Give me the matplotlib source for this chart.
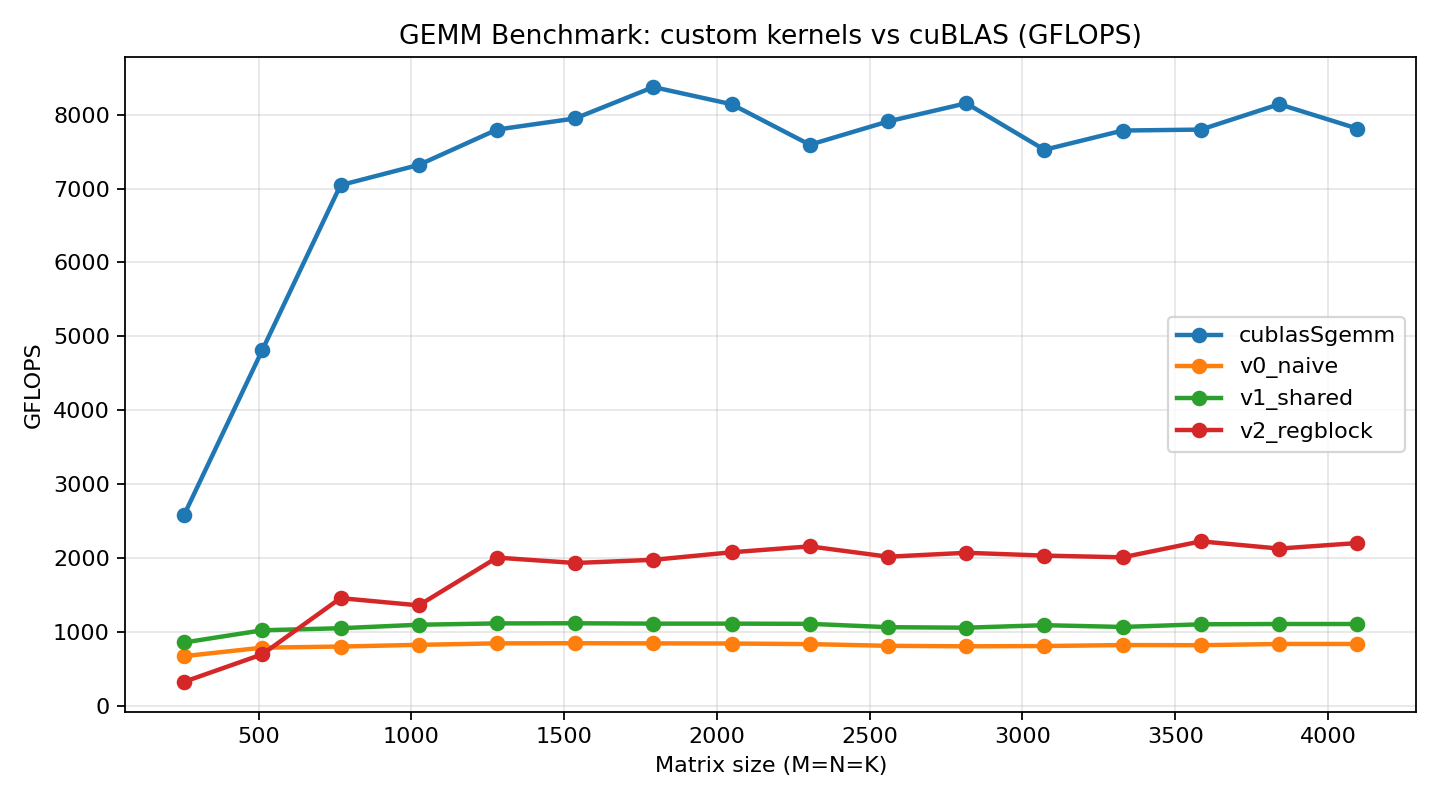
import numpy as np
import matplotlib
matplotlib.use('Agg')
import matplotlib.pyplot as plt

sizes = [256, 512, 768, 1024, 1280, 1536, 1792, 2048, 2304, 2560, 2816, 3072, 3328, 3584, 3840, 4096]

cublas = [2585, 4815, 7045, 7319, 7797, 7948, 8372, 8140, 7592, 7907, 8153, 7524, 7784, 7797, 8140, 7811]
v0_naive = [675, 790, 805, 828, 848, 850, 848, 846, 838, 815, 808, 812, 825, 823, 840, 840]
v1_shared = [860, 1025, 1053, 1100, 1118, 1120, 1115, 1115, 1112, 1067, 1060, 1094, 1070, 1106, 1110, 1110]
v2_regblock = [328, 700, 1460, 1362, 2008, 1935, 1978, 2080, 2160, 2020, 2073, 2035, 2012, 2228, 2130, 2205]

fig = plt.figure(figsize=(9, 5), dpi=160)
ax = fig.add_subplot(111)

ax.plot(sizes, cublas, marker='o', linewidth=2, markersize=6, label='cublasSgemm')
ax.plot(sizes, v0_naive, marker='o', linewidth=2, markersize=6, label='v0_naive')
ax.plot(sizes, v1_shared, marker='o', linewidth=2, markersize=6, label='v1_shared')
ax.plot(sizes, v2_regblock, marker='o', linewidth=2, markersize=6, label='v2_regblock')

ax.set_title('GEMM Benchmark: custom kernels vs cuBLAS (GFLOPS)')
ax.set_xlabel('Matrix size (M=N=K)')
ax.set_ylabel('GFLOPS')
ax.grid(True, alpha=0.3)
ax.legend(loc='center right')

plt.tight_layout()
plt.savefig('out.png', dpi=160)
